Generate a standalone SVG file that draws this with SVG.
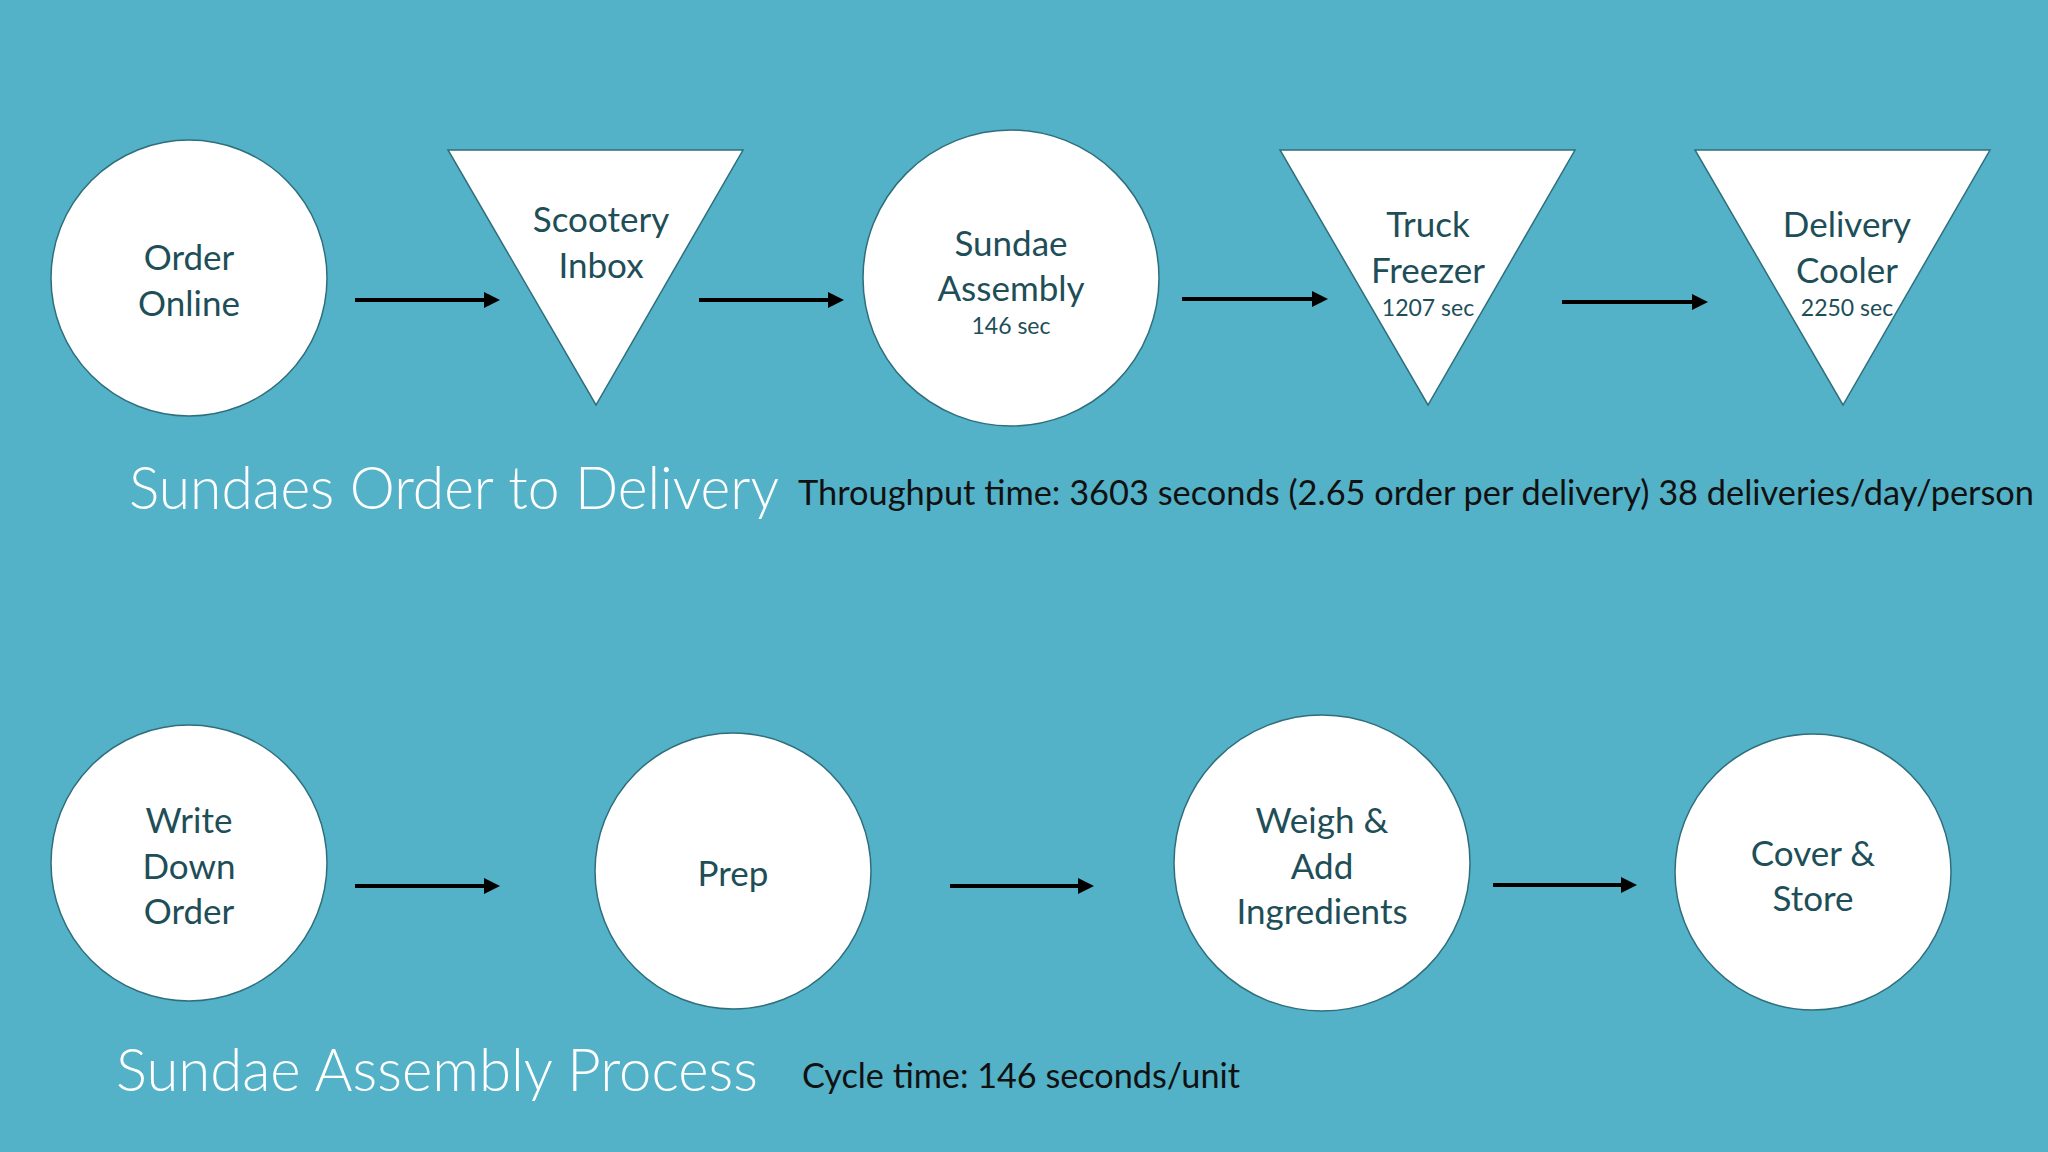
<svg xmlns="http://www.w3.org/2000/svg" width="2048" height="1152" viewBox="0 0 2048 1152">
<defs>
<style>
.n{fill:#fff;stroke:#2F6F7C;stroke-width:1.5}
.t{font-family:Lato,"Open Sans",sans-serif;font-size:35px;fill:#1E4E58;text-anchor:middle;dominant-baseline:central}
.s{font-family:Lato,"Open Sans",sans-serif;font-size:23px;fill:#1E4E58;text-anchor:middle;dominant-baseline:central}
.h{font-family:Lato,"Open Sans",sans-serif;font-weight:300;font-size:60px;fill:#fff;dominant-baseline:central}
.d{font-family:Lato,"Open Sans",sans-serif;font-size:35px;fill:#111;dominant-baseline:central}
.c{stroke:#000;stroke-width:4;marker-end:url(#a)}
</style>
<marker id="a" markerWidth="4" markerHeight="4" refX="3" refY="2" orient="auto"><path d="M0,0L4,2L0,4z" fill="#000"/></marker>
</defs>
<rect width="2048" height="1152" fill="#53B1C8"/>
<g id="order-online"><circle class="n" cx="189" cy="278" r="138"/><text class="t" x="189" y="256">Order</text><text class="t" x="189" y="302">Online</text></g>
<g id="scootery-inbox"><polygon class="n" points="448,150 743,150 596,405"/><text class="t" x="601" y="218">Scootery</text><text class="t" x="601" y="264">Inbox</text></g>
<g id="sundae-assembly"><circle class="n" cx="1011" cy="278" r="148"/><text class="t" x="1011" y="242">Sundae</text><text class="t" x="1011" y="287">Assembly</text><text class="s" x="1011" y="325">146 sec</text></g>
<g id="truck-freezer"><polygon class="n" points="1280,150 1575,150 1428,405"/><text class="t" x="1428" y="223">Truck</text><text class="t" x="1428" y="269">Freezer</text><text class="s" x="1428" y="307">1207 sec</text></g>
<g id="delivery-cooler"><polygon class="n" points="1695,150 1990,150 1843,405"/><text class="t" x="1847" y="223">Delivery</text><text class="t" x="1847" y="269">Cooler</text><text class="s" x="1847" y="307">2250 sec</text></g>
<g id="write-down-order"><circle class="n" cx="189" cy="863" r="138"/><text class="t" x="189" y="819">Write</text><text class="t" x="189" y="865">Down</text><text class="t" x="189" y="910">Order</text></g>
<g id="prep"><circle class="n" cx="733" cy="871" r="138"/><text class="t" x="733" y="872">Prep</text></g>
<g id="weigh-add"><circle class="n" cx="1322" cy="863" r="148"/><text class="t" x="1322" y="819">Weigh &amp;</text><text class="t" x="1322" y="865">Add</text><text class="t" x="1322" y="910">Ingredients</text></g>
<g id="cover-store"><circle class="n" cx="1813" cy="872" r="138"/><text class="t" x="1813" y="852">Cover &amp;</text><text class="t" x="1813" y="897">Store</text></g>
<g id="connectors">
<line class="c" x1="355" y1="300" x2="496" y2="300"/>
<line class="c" x1="699" y1="300" x2="840" y2="300"/>
<line class="c" x1="1182" y1="299" x2="1324" y2="299"/>
<line class="c" x1="1562" y1="302" x2="1704" y2="302"/>
<line class="c" x1="355" y1="886" x2="496" y2="886"/>
<line class="c" x1="950" y1="886" x2="1090" y2="886"/>
<line class="c" x1="1493" y1="885" x2="1633" y2="885"/>
</g>
<text class="h" x="129" y="486" textLength="650" lengthAdjust="spacingAndGlyphs">Sundaes Order to Delivery</text>
<text class="d" x="798" y="491" textLength="1236" lengthAdjust="spacingAndGlyphs">Throughput time: 3603 seconds (2.65 order per delivery) 38 deliveries/day/person</text>
<text class="h" x="116" y="1068" textLength="642" lengthAdjust="spacingAndGlyphs">Sundae Assembly Process</text>
<text class="d" x="802" y="1074" textLength="438" lengthAdjust="spacingAndGlyphs">Cycle time: 146 seconds/unit</text>
</svg>
